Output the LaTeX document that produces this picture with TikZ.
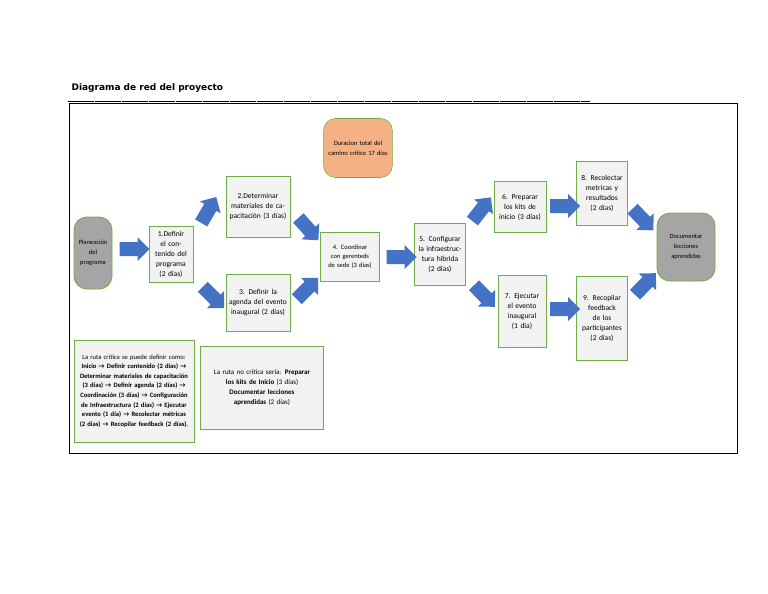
\documentclass[tikz,border=0pt]{standalone}
\usepackage{fontspec}
\setmainfont{Carlito}
\setsansfont{DejaVu Sans}
\usetikzlibrary{shapes.arrows}
\definecolor{bfill}{HTML}{F2F2F2}
\definecolor{gbord}{HTML}{70AD47}
\definecolor{ablue}{HTML}{4472C4}
\definecolor{gterm}{HTML}{A5A5A5}
\definecolor{orng}{HTML}{F4B183}
\begin{document}
\begin{tikzpicture}[x=1pt,y=-1pt,
 box/.style={draw=gbord,line width=0.9pt,fill=bfill,inner sep=1pt,align=center,font=\fontsize{7.5}{10}\selectfont},
 term/.style={draw=gbord,line width=0.9pt,fill=gterm,rounded corners=13pt,inner sep=1pt,align=center,font=\fontsize{6.5}{10}\selectfont},
 barrow/.style={single arrow,fill=ablue,draw=none,minimum height=30pt,minimum width=24pt,single arrow head extend=3pt,inner sep=4pt,sloped}]
\useasboundingbox (0,0) rectangle (768,594);
\node[anchor=west,font=\sffamily\bfseries\fontsize{9}{11}\selectfont] (title) at (68,88) {Diagrama de red del proyecto};
\draw[line width=0.8pt,dash pattern=on 26pt off 1pt] (68,101) -- (590,101);
\draw[line width=0.8pt] (69,103) rectangle (737,453);
% nodes
\node[term,minimum width=38pt,minimum height=72pt] (p) at (93,253) {Planeación\\del\\programa};
\node[box,minimum width=44pt,minimum height=56pt,text width=40pt] (n1) at (171,254) {1.Definir el contenido del programa (2 días)};
\node[box,minimum width=64pt,minimum height=61pt,text width=58pt] (n2) at (258,207) {2.Determinar materiales de capacitación (3 días)};
\node[box,minimum width=64pt,minimum height=57pt,text width=58pt] (n3) at (258,303) {3. Definir la agenda del evento inaugural (2 días)};
\node[box,minimum width=59pt,minimum height=49pt,text width=55pt,font=\fontsize{6.5}{9}\selectfont] (n4) at (350,257) {4. Coordinar con gerenteds de sede (3 días)};
\node[draw=gbord,fill=orng,line width=0.6pt,rounded corners=12pt,minimum width=68pt,minimum height=59pt,text width=62pt,align=center,font=\fontsize{6.5}{10}\selectfont] (dur) at (358,148) {Duracion total del camino crítico 17 días};
\node[box,minimum width=51pt,minimum height=62pt,text width=49pt] (n5) at (440,254) {5. Configurar la infraestructura hibrida (2 días)};
\node[box,minimum width=52pt,minimum height=51pt,text width=48pt] (n6) at (520,207) {6. Preparar los kits de inicio (3 días)};
\node[box,minimum width=48pt,minimum height=72pt,text width=44pt] (n7) at (522,311) {7. Ejecutar el evento inaugural (1 día)};
\node[box,minimum width=51pt,minimum height=64pt,text width=47pt] (n8) at (602,193) {8. Recolectar metricas y resultados (2 días)};
\node[box,minimum width=51pt,minimum height=84pt,text width=47pt] (n9) at (602,318) {9. Recopilar feedback de los participantes (2 días)};
\node[term,minimum width=58pt,minimum height=68pt] (doc) at (686,247) {Documentar\\lecciones\\aprendidas};
\node[box,minimum width=120pt,minimum height=102pt,text width=116pt,font=\fontsize{6.6}{9.6}\selectfont] (crit) at (134,391) {La ruta crítica se puede definir como:\\ \textbf{Inicio → Definir contenido (2 días) → Determinar materiales de capacitación (3 días) → Definir agenda (2 días) → Coordinación (3 días) → Configuración de Infraestructura (2 días) → Ejecutar evento (1 día) → Recolectar métricas (2 días) → Recopilar feedback (2 días).}};
\node[box,minimum width=123pt,minimum height=83pt,text width=117pt,font=\fontsize{7}{10}\selectfont] (nocrit) at (262,388) {La ruta no critica sería: \textbf{Preparar los kits de Inicio} (3 días)\\ \textbf{Documentar lecciones aprendidas} (2 días)};
% arrows
\coordinate (a1s) at (116,249); \coordinate (a1e) at (146,249);
\coordinate (a2s) at (196,232); \coordinate (a2e) at (218,194);
\coordinate (a3s) at (198,282); \coordinate (a3e) at (224,308);
\coordinate (a4s) at (293,212); \coordinate (a4e) at (319,241);
\coordinate (a5s) at (291,305); \coordinate (a5e) at (319,277);
\coordinate (a6s) at (383,257); \coordinate (a6e) at (413,257);
\coordinate (a7s) at (467,228); \coordinate (a7e) at (492,196);
\coordinate (a8s) at (469,280); \coordinate (a8e) at (495,307);
\coordinate (a9s) at (547,206); \coordinate (a9e) at (576,206);
\coordinate (a10s) at (547,309); \coordinate (a10e) at (576,309);
\coordinate (a11s) at (627,203); \coordinate (a11e) at (654,231);
\coordinate (a12s) at (630,300); \coordinate (a12e) at (656,273);
\foreach \i in {1,...,12}{\path (a\i s) -- (a\i e) node[barrow,midway] (arr\i) {};}
\end{tikzpicture}
\end{document}
